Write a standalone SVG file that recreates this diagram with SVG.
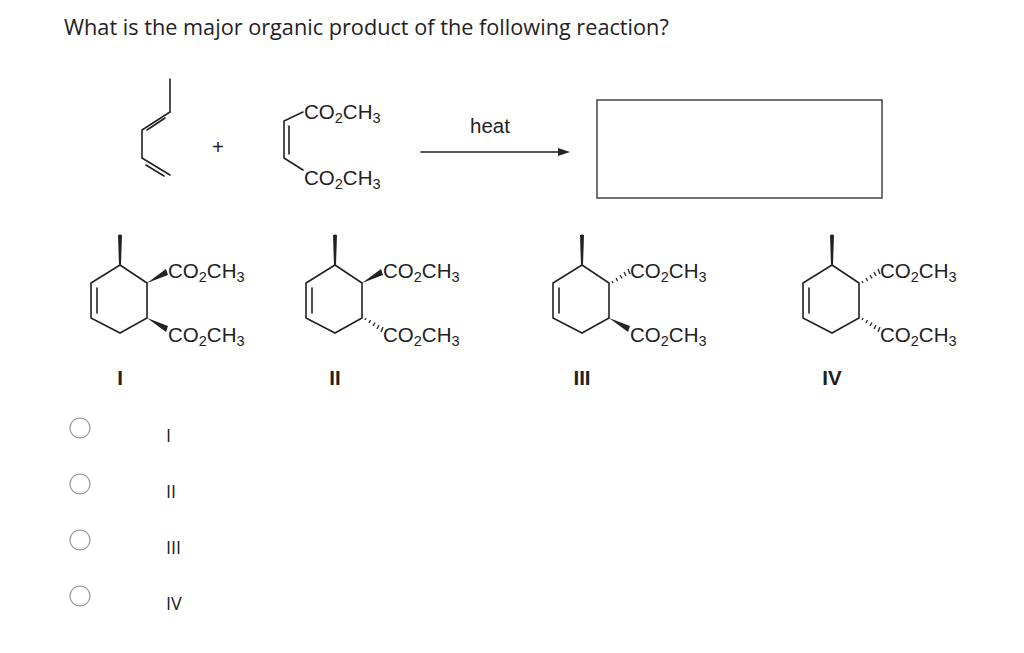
<svg xmlns="http://www.w3.org/2000/svg" width="1024" height="653" viewBox="0 0 1024 653">
<style>
.b{stroke:#222;stroke-width:1.6;fill:none;stroke-linecap:round}
.c{font-family:"Liberation Sans",Arial,sans-serif;font-size:20.5px;fill:#222}
.s{font-size:14.5px}
.q{font-family:"Open Sans","Liberation Sans",sans-serif;font-size:21.7px;fill:#222}
.o{font-family:"Open Sans","Liberation Sans",sans-serif;font-size:18px;fill:#222}
.r{fill:#fff;stroke:#999;stroke-width:1.2}
.h{stroke:#222;stroke-width:1.3}
</style>
<defs>
<g id="ring">
<path class="b" d="M120,235V265L147,283V318L120,333L91,318V283L120,265"/>
<path class="b" d="M97,288V313"/>
<polygon points="118,235 122,235 121,265 119,265" fill="#222"/>
</g>
<polygon id="wu" points="147,283 166,269 168,275" fill="#222"/>
<polygon id="wd" points="147,318 166,332 168,326" fill="#222"/>
<g id="hu" class="h"><path d="M150,281l1,2M154,278l1.5,3M158,275l2,3.5M162,272l2,4M166,269l2,5"/></g>
<g id="hd" class="h"><path d="M150,320l1,-2M154,323l1.5,-3M158,326l2,-3.5M162,329l2,-4M166,332l2,-5"/></g>
<g id="t1"><text class="c" x="168" y="278">CO<tspan class="s" dy="4">2</tspan><tspan dy="-4">CH</tspan><tspan class="s" dy="4">3</tspan></text></g>
<g id="t2"><text class="c" x="168" y="342">CO<tspan class="s" dy="4">2</tspan><tspan dy="-4">CH</tspan><tspan class="s" dy="4">3</tspan></text></g>
</defs>
<rect width="1024" height="653" fill="#fff"/>
<text class="q" x="64" y="35">What is the major organic product of the following reaction?</text>
<g id="diene">
<path class="b" d="M170,79V112L142,130V158L170,175"/>
<path class="b" d="M165,118L147,130M146,165L164,176"/>
</g>
<text class="c" x="212" y="154" font-size="16">+</text>
<g id="dienophile">
<path class="b" d="M303,112L284,121V158L303,170M289,126V154"/>
<text class="c" x="304" y="119">CO<tspan class="s" dy="4">2</tspan><tspan dy="-4">CH</tspan><tspan class="s" dy="4">3</tspan></text>
<text class="c" x="304" y="185">CO<tspan class="s" dy="4">2</tspan><tspan dy="-4">CH</tspan><tspan class="s" dy="4">3</tspan></text>
</g>
<g id="connectors">
<path class="b" d="M421,152H560"/>
<polygon points="570,152 558,148 558,156" fill="#222"/>
</g>
<text class="c" x="490" y="133" text-anchor="middle" font-size="20">heat</text>
<rect id="box" x="597" y="100" width="285" height="98" fill="none" stroke="#444" stroke-width="1.5"/>
<g id="I"><use href="#ring"/><use href="#wu"/><use href="#wd"/><use href="#t1"/><use href="#t2"/></g>
<g id="II" transform="translate(215,0)"><use href="#ring"/><use href="#wu"/><use href="#hd"/><use href="#t1"/><use href="#t2"/></g>
<g id="III" transform="translate(462,0)"><use href="#ring"/><use href="#hu"/><use href="#wd"/><use href="#t1"/><use href="#t2"/></g>
<g id="IV" transform="translate(712,0)"><use href="#ring"/><use href="#hu"/><use href="#hd"/><use href="#t1"/><use href="#t2"/></g>
<g class="c" font-weight="bold" font-size="16" text-anchor="middle">
<text x="120" y="385">I</text><text x="335" y="385">II</text><text x="582" y="385">III</text><text x="832" y="385">IV</text>
</g>
<g id="options">
<circle class="r" cx="80" cy="428" r="10"/><circle class="r" cx="80" cy="484" r="10"/><circle class="r" cx="80" cy="540" r="10"/><circle class="r" cx="80" cy="596" r="10"/>
<text class="o" x="166" y="442">I</text><text class="o" x="166" y="498">II</text><text class="o" x="166" y="554">III</text><text class="o" x="166" y="610">IV</text>
</g>
</svg>
